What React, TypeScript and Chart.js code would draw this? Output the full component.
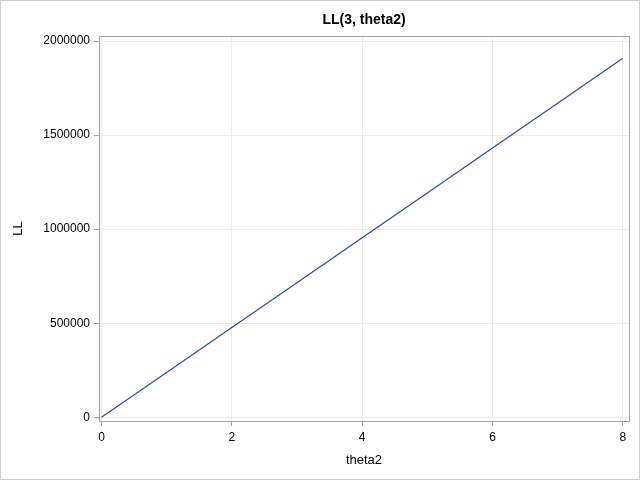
import React, { useEffect, useRef } from "react";
import { Chart, registerables } from "chart.js";

Chart.register(...registerables);

const thetaValues = [0, 1, 2, 3, 4, 5, 6, 7, 8];
const llValues = [0, 238000, 477000, 715000, 954000, 1192000, 1431000, 1669000, 1908000];
const xTicks = [0, 2, 4, 6, 8];
const yTicks = [0, 500000, 1000000, 1500000, 2000000];
const chartTitle = "LL(3, theta2)";
const xTitle = "theta2";
const yTitle = "LL";

const FONT = "'Liberation Sans', Arial, sans-serif";

const framePlugin = {
  id: "frameAndTitle",
  afterDraw(chart: any) {
    const { ctx, chartArea } = chart;
    ctx.save();
    ctx.strokeStyle = "#a3a3a3";
    ctx.lineWidth = 1;
    ctx.strokeRect(
      Math.round(chartArea.left) + 0.5,
      Math.round(chartArea.top) + 0.5,
      Math.round(chartArea.right - chartArea.left),
      Math.round(chartArea.bottom - chartArea.top)
    );
    ctx.strokeStyle = "#d0d0d0";
    ctx.strokeRect(0.5, 0.5, chart.width - 1, chart.height - 1);
    ctx.fillStyle = "#000";
    ctx.font = `bold 14px ${FONT}`;
    ctx.textAlign = "center";
    ctx.textBaseline = "middle";
    ctx.fillText(chartTitle, (chartArea.left + chartArea.right) / 2, 20);
    ctx.restore();
  },
};

export default function App() {
  const ref = useRef<HTMLCanvasElement>(null);
  useEffect(() => {
    if (!ref.current) return;
    const chart = new Chart(ref.current, {
      type: "line",
      data: {
        datasets: [
          {
            data: thetaValues.map((x, i) => ({ x, y: llValues[i] })),
            borderColor: "#2a4fb0",
            borderWidth: 1.3,
            pointRadius: 0,
            tension: 0,
          },
        ],
      },
      options: {
        responsive: false,
        animation: false,
        layout: { padding: { top: 36, right: 11, left: 0, bottom: 0 } },
        plugins: { legend: { display: false }, title: { display: false }, tooltip: { enabled: false } },
        scales: {
          x: {
            type: "linear",
            min: -0.038,
            max: 8.095,
            afterBuildTicks: (s: any) => {
              s.ticks = xTicks.map((v) => ({ value: v }));
            },
            afterFit: (s: any) => {
              s.height = 59;
            },
            grid: { color: "#ebebeb", tickColor: "#a3a3a3", tickLength: 5 },
            border: { display: false },
            ticks: { color: "#000", font: { family: FONT, size: 12 }, padding: 4, maxRotation: 0 },
            title: { display: true, text: xTitle, color: "#000", font: { family: FONT, size: 13 }, padding: { top: 0, bottom: 12 } },
          },
          y: {
            type: "linear",
            min: -19700,
            max: 2026600,
            afterBuildTicks: (s: any) => {
              s.ticks = yTicks.map((v) => ({ value: v }));
            },
            afterFit: (s: any) => {
              s.width = 99;
            },
            grid: { color: "#ebebeb", tickColor: "#a3a3a3", tickLength: 5 },
            border: { display: false },
            ticks: { color: "#000", font: { family: FONT, size: 12 }, padding: 4, callback: (v: any) => String(v) },
            title: { display: true, text: yTitle, color: "#000", font: { family: FONT, size: 13 }, padding: { top: 11, bottom: 0 } },
          },
        },
      },
      plugins: [framePlugin],
    } as any);
    return () => chart.destroy();
  }, []);
  return (
    <div style={{ position: "absolute", left: 0, top: 0, width: 640, height: 480, background: "#fff" }}>
      <canvas ref={ref} width={640} height={480} style={{ display: "block" }} />
    </div>
  );
}
